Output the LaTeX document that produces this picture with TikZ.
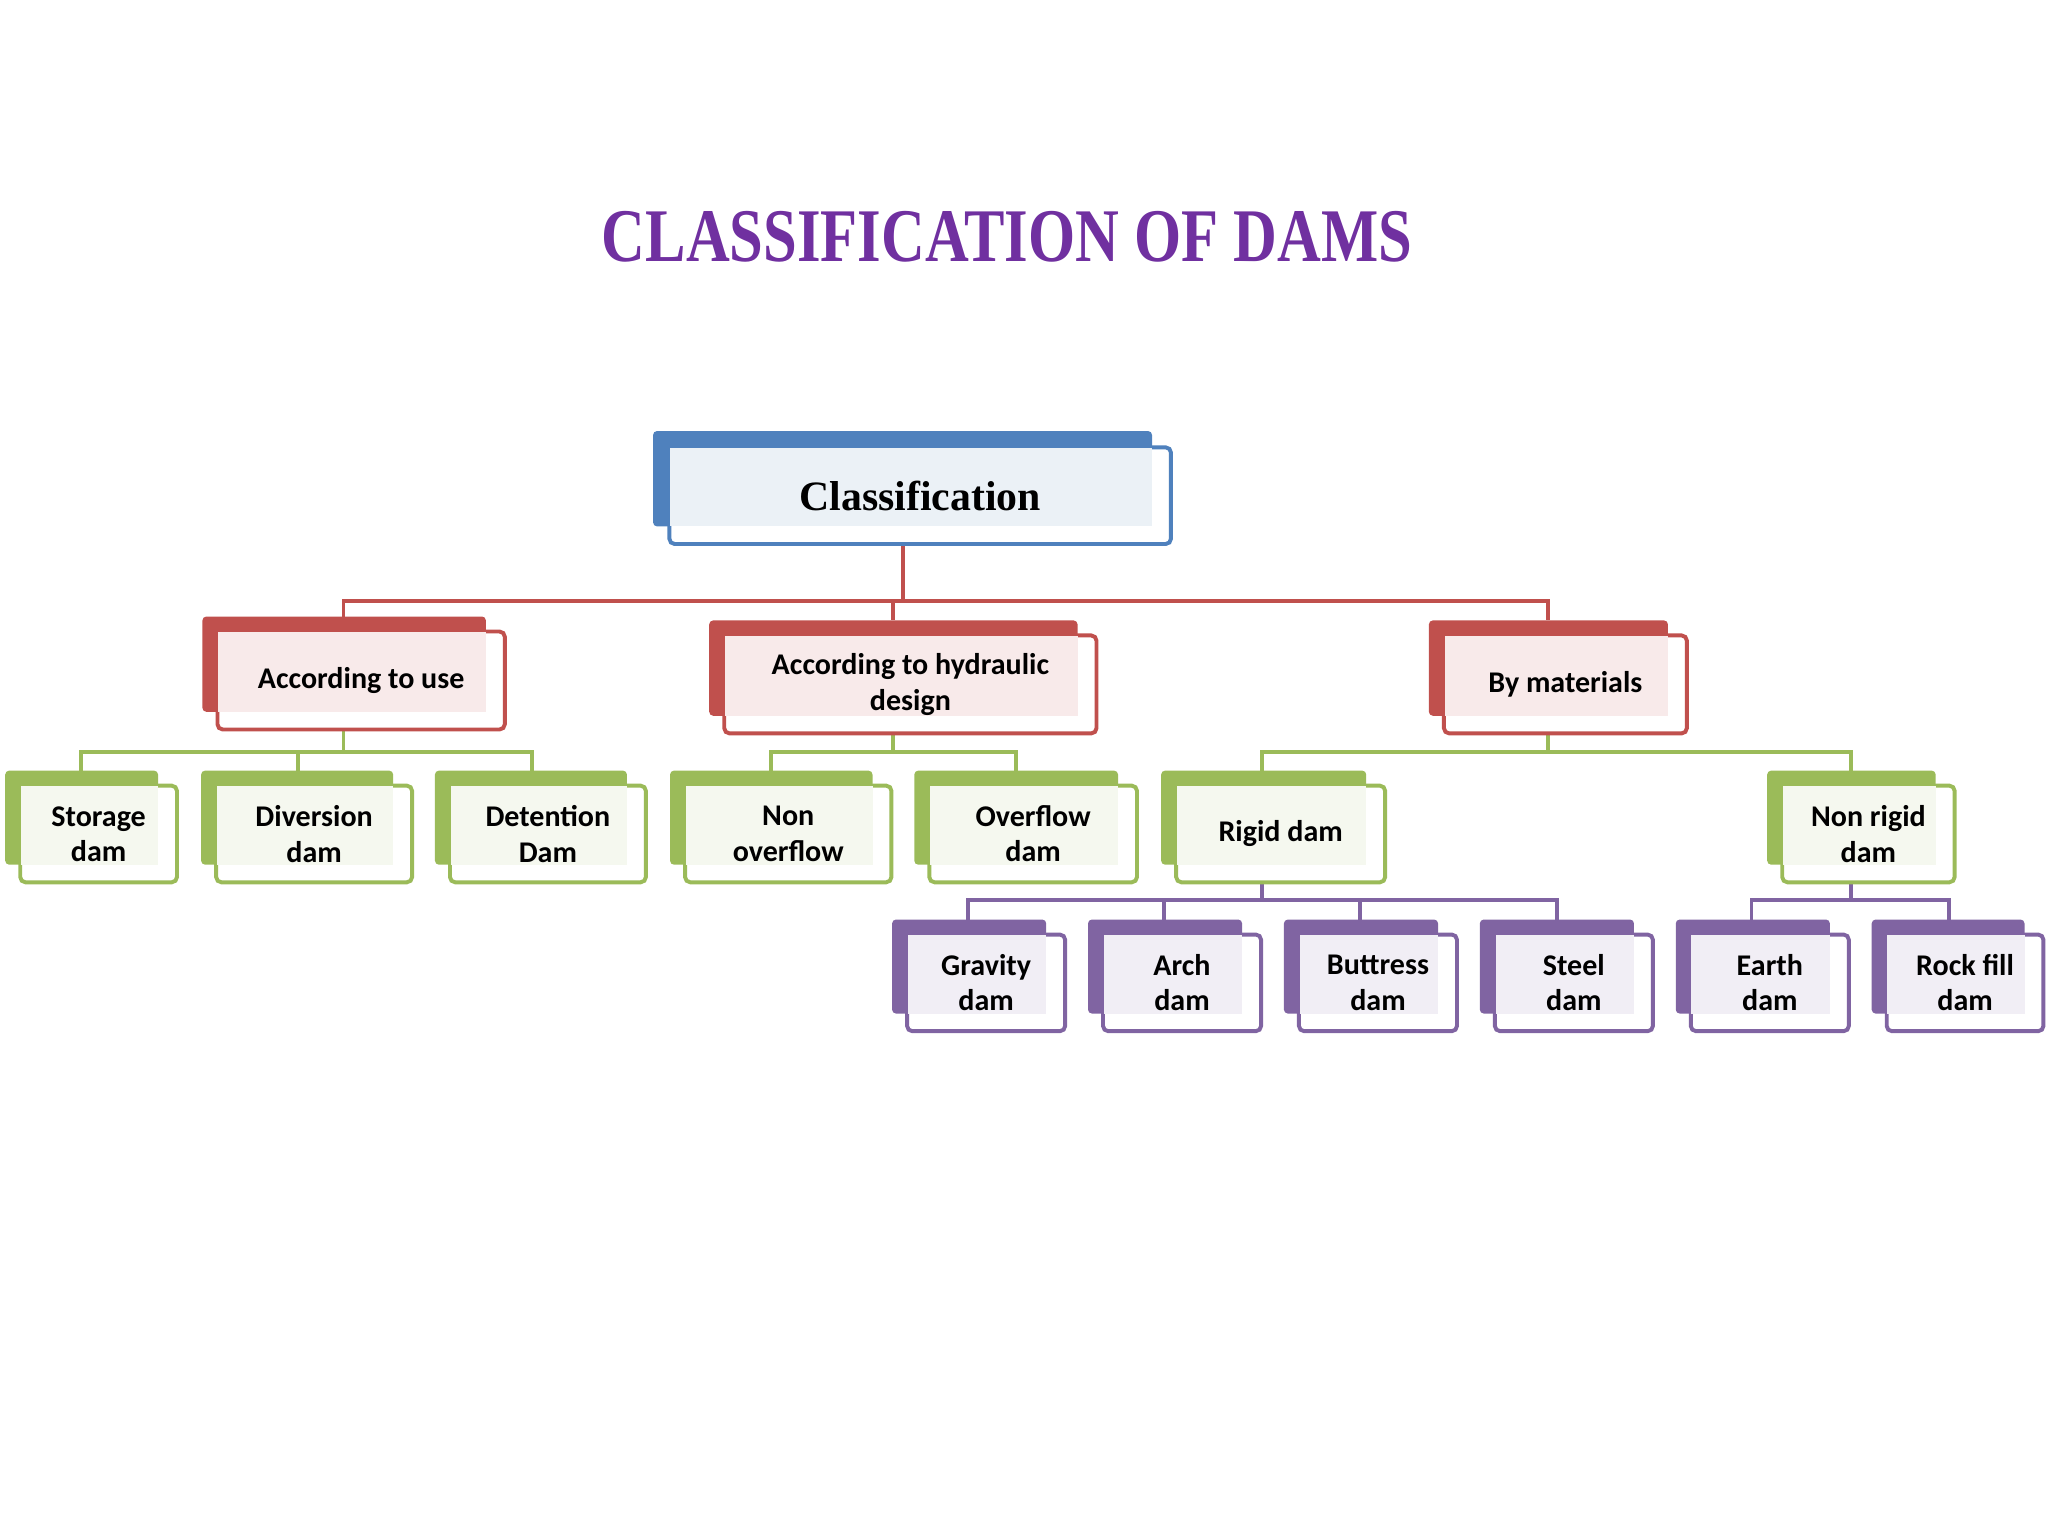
\documentclass[tikz,border=0pt]{standalone}
\usepackage{fontspec}
\setmainfont{Carlito}
\newfontfamily\tserif{Liberation Serif}
\definecolor{cB}{HTML}{4F81BD}\definecolor{tB}{HTML}{EBF1F6}
\definecolor{cR}{HTML}{C0504D}\definecolor{tR}{HTML}{F8EAEA}
\definecolor{cG}{HTML}{9BBB59}\definecolor{tG}{HTML}{F5F8EF}
\definecolor{cP}{HTML}{8064A2}\definecolor{tP}{HTML}{F1EEF5}
\definecolor{ttl}{HTML}{7030A0}
\newcommand\bx[8]{%
  \fill[#2,rounded corners=3pt] (#4,#5) rectangle ({#6-16},{#7-15});
  \node[draw=#2,fill=white,line width=3pt,rounded corners=4pt,minimum width={#6-#4-13},minimum height={#7-#5-13},inner sep=0pt] at ({(#4+10+#6)/2},{(#5+10+#7)/2}) {};
  \fill[#3] ({#4+12},{#5+12}) rectangle ({#6-16},{#7-15});
  \node[font=\bfseries\fontsize{23}{27}\selectfont,align=center] (#1) at ({(#4+10+#6)/2},{(#5+10+#7)/2}) {#8};
  \coordinate (#1t) at ({(#4+#6-16)/2},#5);
  \coordinate (#1s) at ({(#4+#6-16)/2},{#7-15});}
\tikzset{ln/.style={line width=3pt}}
\begin{document}
\begin{tikzpicture}[x=1pt,y=-1pt]
\useasboundingbox (0,0) rectangle (1568,1176);
\node[text=ttl,font=\tserif\bfseries\fontsize{58}{60}\selectfont] (title) at (771,181) {\scalebox{0.8}[1]{CLASSIFICATION OF DAMS}};
% connectors
\coordinate (rj) at (691,460);
\coordinate (gj1) at (263,576);
\coordinate (gj2) at (684,576);
\coordinate (gj3) at (1185,576);
\coordinate (pj1) at (966,689);
\coordinate (pj2) at (1417,689);
\draw[ln,cR] (691,403) -- (rj);
\draw[ln,cR] (rj) -| (263,472) (rj) -| (1185,475) (rj) -| (684,475);
\draw[ln,cG] (263,545) -- (gj1) -| (62,590) (gj1) -| (228,590) (gj1) -| (407,590) (gj1) -- (62,576);
\draw[ln,cG] (684,548) -- (gj2) -| (590,590) (gj2) -| (778,590);
\draw[ln,cG] (1185,548) -- (gj3) -| (966,590) (gj3) -| (1417,590);
\draw[ln,cP] (966,662) -- (pj1) -| (741,704) (pj1) -| (891,704) (pj1) -| (1041,704) (pj1) -| (1192,704);
\draw[ln,cP] (1417,662) -- (pj2) -| (1341,704) (pj2) -| (1492,704);
% boxes
\fill[cB,rounded corners=3pt] (500,330) rectangle (882,403);
\node[draw=cB,fill=white,line width=3pt,rounded corners=4pt,minimum width=384,minimum height=74,inner sep=0pt] at (704.5,379.5) {};
\fill[tB] (513,343) rectangle (882,403);
\node[font=\tserif\bfseries\fontsize{32}{36}\selectfont] (cls) at (704.5,379.5) {Classification};
\bx{use}{cR}{tR}{155}{472}{388}{560}{According to use}
\bx{hyd}{cR}{tR}{543}{475}{841}{563}{According to hydraulic\\design}
\bx{mat}{cR}{tR}{1094}{475}{1293}{563}{By materials}
\bx{sto}{cG}{tG}{4}{590}{137}{677}{Storage\\dam}
\bx{div}{cG}{tG}{154}{590}{317}{677}{Diversion\\dam}
\bx{det}{cG}{tG}{333}{590}{496}{677}{Detention\\Dam}
\bx{non}{cG}{tG}{513}{590}{684}{677}{Non\\overflow}
\bx{ovf}{cG}{tG}{700}{590}{872}{677}{Overflow\\dam}
\bx{rig}{cG}{tG}{889}{590}{1062}{677}{Rigid dam}
\bx{nri}{cG}{tG}{1353}{590}{1498}{677}{Non rigid\\dam}
\bx{gra}{cP}{tP}{683}{704}{817}{791}{Gravity\\dam}
\bx{arc}{cP}{tP}{833}{704}{967}{791}{Arch\\dam}
\bx{but}{cP}{tP}{983}{704}{1117}{791}{Buttress\\dam}
\bx{ste}{cP}{tP}{1133}{704}{1267}{791}{Steel\\dam}
\bx{ear}{cP}{tP}{1283}{704}{1417}{791}{Earth\\dam}
\bx{roc}{cP}{tP}{1433}{704}{1566}{791}{Rock fill\\dam}
\end{tikzpicture}
\end{document}
